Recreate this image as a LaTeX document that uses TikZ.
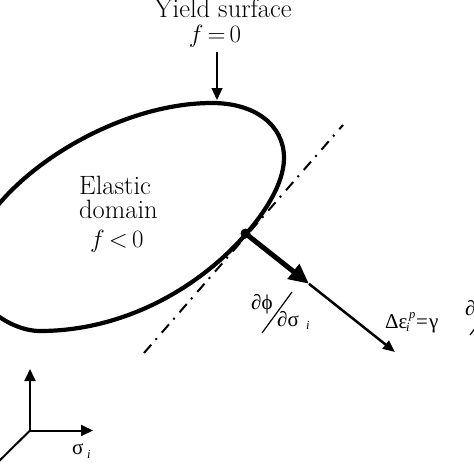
\documentclass[tikz,border=0pt]{standalone}
\usepackage{fontspec}
\newfontfamily\lib{Liberation Serif}
\usetikzlibrary{arrows.meta}
\begin{document}
\begin{tikzpicture}[x=1pt,y=-1pt,
  lbl/.style={inner sep=0pt, anchor=base west, font=\fontsize{26.5}{30}\selectfont},
  gr/.style={inner sep=0pt, anchor=base west, font=\lib\fontsize{21}{24}\selectfont},
  sm/.style={inner sep=0pt, anchor=base west, font=\lib\itshape\fontsize{12.5}{14}\selectfont},
  thinarrow/.style={line width=1.3pt, -{Triangle[length=12pt,width=11pt]}},
  axisarrow/.style={line width=2pt, -{Triangle[length=12pt,width=11pt]}},
  slashline/.style={line width=1.2pt},
]
\useasboundingbox (0,0) rectangle (474,474);
\fill[white] (0,0) rectangle (474,474);

% tangent line (dash-dot)
\coordinate (t1) at (144,353);
\coordinate (t2) at (343,125);
\draw[line width=2pt, dash pattern=on 11pt off 6.5pt on 2pt off 7.5pt] (t1) -- (t2);

% yield surface
\draw[line width=4.2pt, line join=round]
  (212,103) .. controls (255,103) and (284,125) .. (284,158)
  .. controls (284,185) and (262.5,215) .. (246,234)
  .. controls (199.9,286.9) and (125,331) .. (40,331)
  .. controls (10,331) and (-30,303) .. (-30,268)
  .. controls (-30,198) and (100,103) .. cycle;

% top label and arrow
\node[lbl, anchor=base] (ys) at (223,17) {Yield surface};
\node[lbl, anchor=base] (f0) at (215,42) {$f\,{=}\,0$};
\coordinate (a1) at (217,52);
\coordinate (a2) at (217,100);
\draw[thinarrow] (a1) -- (a2);

% inner labels
\node[lbl] (el) at (79,194) {Elastic};
\node[lbl] (dm) at (79,218) {domain};
\node[lbl] (fl) at (90,247) {$f\,{<}\,0$};

% point and normal
\node[circle, fill, inner sep=0pt, minimum size=10pt] (D) at (245.5,233.5) {};
\coordinate (M) at (309,283.8);
\coordinate (Q) at (395,352);
\draw[line width=5pt, -{Triangle[length=20pt,width=18pt]}] (D.center) -- (M);
\draw[line width=2.5pt, -{Triangle[length=12pt,width=10pt]}] (M) -- (Q);

% fraction label
\node[gr] (n1) at (251,309) {∂ϕ};
\coordinate (s1) at (262,333);
\coordinate (s2) at (292,292);
\draw[slashline] (s1) -- (s2);
\node[gr] (n2) at (277,326) {∂σ};
\node[sm] (n2i) at (306,329) {i};

% increment label
\node[gr] (de) at (385,328) {Δε};
\node[sm] (dei) at (406,331) {i};
\node[sm] (dep) at (409,318) {p};
\node[gr] (eq) at (416,328) {=};
\node[gr] (ga) at (429,328) {γ};
\node[gr] (n3) at (465,315) {∂ϕ};
\coordinate (s3) at (470,335);
\coordinate (s4) at (500,295);
\draw[slashline] (s3) -- (s4);

% axes
\coordinate (O) at (30,430.5);
\coordinate (Y) at (30,369);
\coordinate (X) at (93,430.5);
\coordinate (Z) at (-10,470);
\draw[axisarrow] (O) -- (Y);
\draw[axisarrow] (O) -- (X);
\draw[line width=2pt] (O) -- (Z);
\node[gr] (sg) at (72,454) {σ};
\node[sm] (sgi) at (87,458) {i};
\end{tikzpicture}
\end{document}
